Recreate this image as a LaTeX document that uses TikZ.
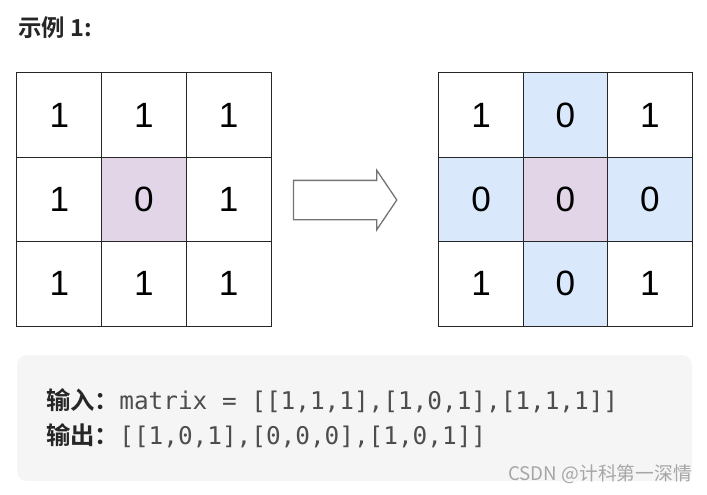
\documentclass[tikz,border=0pt]{standalone}
\usepackage{fontspec}
\setmainfont{Liberation Sans}
\newfontfamily\cjkfont{Noto Sans CJK SC}[BoldFont={Noto Sans CJK SC Bold}]
\newfontfamily\codefont{DejaVu Sans Mono}
\usetikzlibrary{shapes.arrows}
\definecolor{zeroblue}{HTML}{DAE8FC}
\definecolor{startpurple}{HTML}{E1D5E7}
\definecolor{boxgray}{HTML}{F5F5F5}
\definecolor{codegray}{HTML}{4D4D4D}

\begin{document}
\begin{tikzpicture}[x=0.03cm, y=-0.03cm,
    cell/.style={draw=black!85, line width=0.8pt, minimum size=2.54cm, inner sep=0pt, font=\fontsize{30}{36}\selectfont},
    hit/.style={cell, fill=startpurple},
    zeroed/.style={cell, fill=zeroblue},
    bigarrow/.style={single arrow, draw=black!55, line width=1.1pt, minimum height=3.1cm, single arrow head extend=0.3cm, single arrow tip angle=112, inner xsep=0pt, inner ysep=0.57cm},
    code/.style={anchor=base west, inner sep=0pt, font=\fontsize{20.8}{24}\selectfont},
]
\useasboundingbox (0,0) rectangle (707,494);

% Title
\node[anchor=base west, inner sep=0pt, font=\cjkfont\bfseries\fontsize{20}{23}\selectfont, text=black!85] (title) at (18,36) {示例 1:};

% Input matrix
\node[cell] (in11) at (59.3,115.2) {1};
\node[cell] (in12) at (144,115.2) {1};
\node[cell] (in13) at (228.7,115.2) {1};
\node[cell] (in21) at (59.3,199.5) {1};
\node[hit]  (in22) at (144,199.5) {0};
\node[cell] (in23) at (228.7,199.5) {1};
\node[cell] (in31) at (59.3,283.8) {1};
\node[cell] (in32) at (144,283.8) {1};
\node[cell] (in33) at (228.7,283.8) {1};

% Arrow between the two matrices
\node[bigarrow] (arr) at (338.5,200) {};

% Output matrix
\node[cell]   (out11) at (481.2,115.2) {1};
\node[zeroed] (out12) at (565.5,115.2) {0};
\node[cell]   (out13) at (649.8,115.2) {1};
\node[zeroed] (out21) at (481.2,199.5) {0};
\node[hit]    (out22) at (565.5,199.5) {0};
\node[zeroed] (out23) at (649.8,199.5) {0};
\node[cell]   (out31) at (481.2,283.8) {1};
\node[zeroed] (out32) at (565.5,283.8) {0};
\node[cell]   (out33) at (649.8,283.8) {1};

% Example box
\fill[boxgray, rounded corners=0.3cm] (17,355) rectangle (692,481);
\node[code] (inputline) at (46,409) {{\cjkfont\bfseries\color{black!85}输入：}{\codefont\color{codegray}matrix = [[1,1,1],[1,0,1],[1,1,1]]}};
\node[code] (outputline) at (46,444) {{\cjkfont\bfseries\color{black!85}输出：}{\codefont\color{codegray}[[1,0,1],[0,0,0],[1,0,1]]}};

% Watermark
\node[anchor=base east, inner sep=0pt, font=\cjkfont\fontsize{16}{18}\selectfont, text=black!35] (wm) at (692,480) {CSDN @计科第一深情};
\end{tikzpicture}
\end{document}
